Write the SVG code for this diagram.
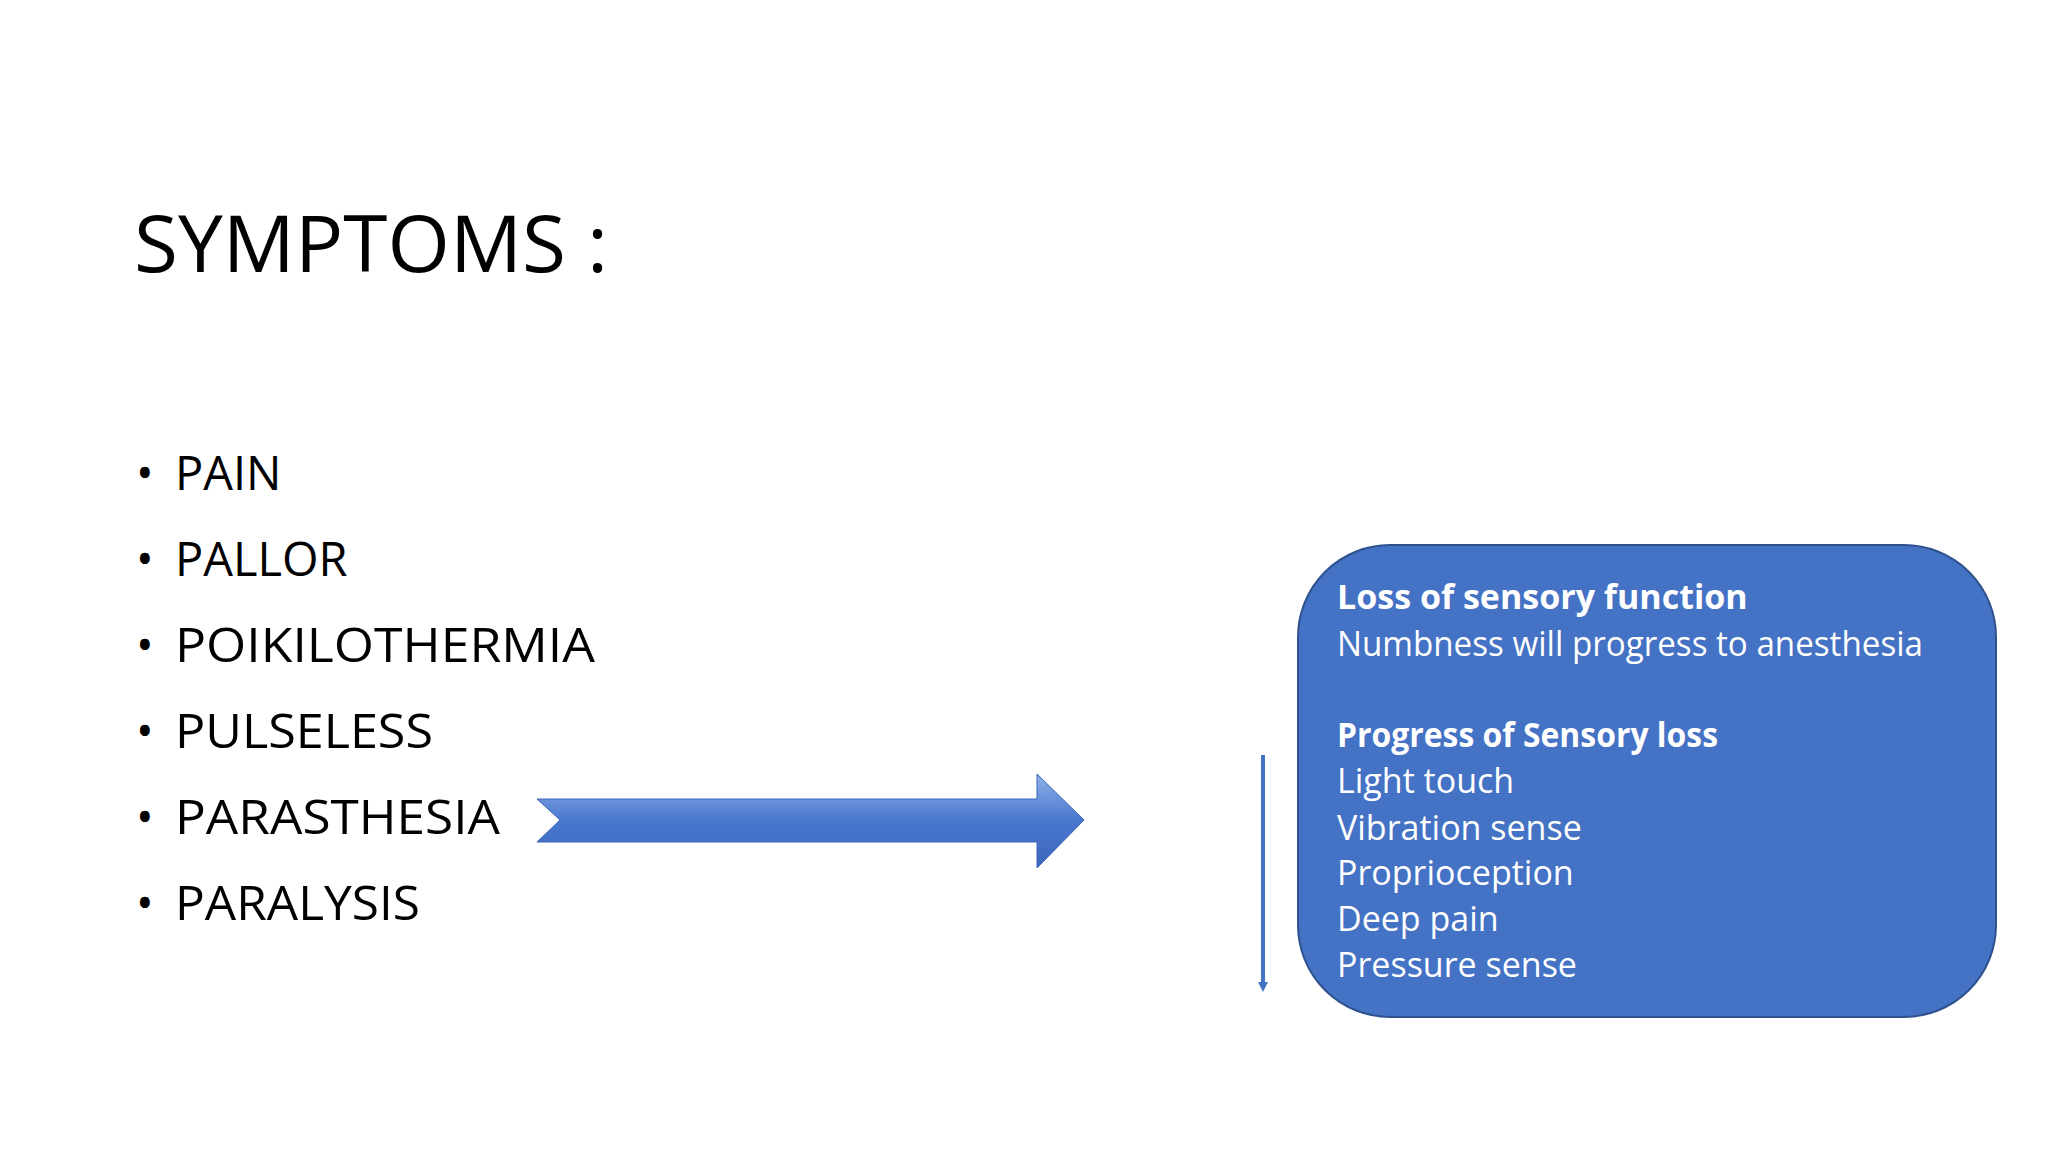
<svg xmlns="http://www.w3.org/2000/svg" width="2048" height="1152" viewBox="0 0 2048 1152">
<defs>
<style>
.t{font-family:"Open Sans","Liberation Sans",sans-serif;fill:#000}
.b{font-family:"Open Sans","Liberation Sans",sans-serif;font-size:47px;fill:#000}
.w{font-family:"Open Sans","Liberation Sans",sans-serif;font-size:34px;fill:#fff}
</style>
<linearGradient id="g" x1="0" y1="0" x2="0" y2="1">
<stop offset="0" stop-color="#8fb0e8"/><stop offset="0.5" stop-color="#4a78cf"/><stop offset="1" stop-color="#3a66bb"/>
</linearGradient>
<marker id="m" markerWidth="10" markerHeight="10" refX="5" refY="5" orient="auto" markerUnits="userSpaceOnUse"><path d="M0,0 L10,5 L0,10 z" fill="#4472c4"/></marker>
</defs>
<rect width="2048" height="1152" fill="#fff"/>
<g id="title"><text class="t" x="134" y="272" font-size="78" textLength="474" lengthAdjust="spacingAndGlyphs">SYMPTOMS :</text></g>
<g id="list">
<text class="b" x="136" y="490">•</text><text class="b" x="175" y="490">PAIN</text>
<text class="b" x="136" y="576">•</text><text class="b" x="175" y="576">PALLOR</text>
<text class="b" x="136" y="662">•</text><text class="b" x="175" y="662" textLength="420" lengthAdjust="spacingAndGlyphs">POIKILOTHERMIA</text>
<text class="b" x="136" y="748">•</text><text class="b" x="175" y="748" textLength="258" lengthAdjust="spacingAndGlyphs">PULSELESS</text>
<text class="b" x="136" y="834">•</text><text class="b" x="175" y="834" textLength="325" lengthAdjust="spacingAndGlyphs">PARASTHESIA</text>
<text class="b" x="136" y="920">•</text><text class="b" x="175" y="920" textLength="245" lengthAdjust="spacingAndGlyphs">PARALYSIS</text>
</g>
<g id="connectors">
<path d="M537,799 L1037,799 L1037,774 L1084,820 L1037,868 L1037,842 L537,842 L560,820 z" fill="url(#g)" stroke="#3a66bb" stroke-width="1"/>
<line x1="1263" y1="755" x2="1263" y2="987" stroke="#4472c4" stroke-width="4" marker-end="url(#m)"/>
</g>
<g id="box">
<rect x="1298" y="545" width="698" height="472" rx="92" fill="#4472c4" stroke="#2f528f" stroke-width="2"/>
<text class="w" x="1337" y="609" font-weight="bold">Loss of sensory function</text>
<text class="w" x="1337" y="656" textLength="586" lengthAdjust="spacingAndGlyphs">Numbness will progress to anesthesia</text>
<text class="w" x="1337" y="747" font-weight="bold" textLength="381" lengthAdjust="spacingAndGlyphs">Progress of Sensory loss</text>
<text class="w" x="1337" y="793">Light touch</text>
<text class="w" x="1337" y="840">Vibration sense</text>
<text class="w" x="1337" y="885">Proprioception</text>
<text class="w" x="1337" y="931">Deep pain</text>
<text class="w" x="1337" y="977">Pressure sense</text>
</g>
</svg>
